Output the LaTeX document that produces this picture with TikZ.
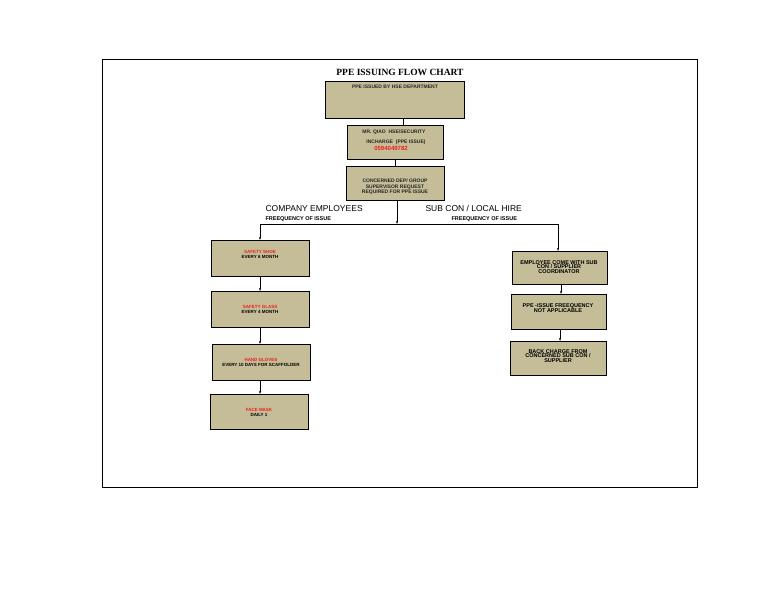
\documentclass[tikz,border=0pt]{standalone}
\usepackage{fontspec}
\setmainfont{Liberation Sans}
\usetikzlibrary{arrows.meta}
\definecolor{boxfill}{RGB}{197,189,151}
\definecolor{redt}{RGB}{240,30,30}
\tikzset{
 bx/.style={draw=black,line width=0.9pt,fill=boxfill,inner sep=0pt,font=\bfseries\fontsize{5}{5}\selectfont,align=center,text=black!85},
 arr/.style={-{Stealth[length=3pt,width=2pt]},line width=0.5pt},
 ln/.style={line width=0.5pt}
}
\newcommand{\bxat}[6]{\node[bx,minimum width=#3-#1,minimum height=#4-#2,anchor=north west] (#5) at (#1,#2) {#6};}
\begin{document}
\begin{tikzpicture}[x=1pt,y=-1pt]
\useasboundingbox (0,0) rectangle (768,593);
\fill[white] (0,0) rectangle (768,593);
\draw[line width=0.8pt] (102,59) rectangle (697,487);
\node[font=\fontspec{Liberation Serif}\bfseries\fontsize{9.5}{9.5}\selectfont,scale=1.0] (title) at (400,72) {PPE ISSUING FLOW CHART};
\node[bx,minimum width=139,minimum height=37,anchor=north west] (b1) at (325,81) {};
\node[font=\bfseries\fontsize{5}{5}\selectfont,text=black!85,anchor=north] (b1t) at (b1.north) {PPE ISSUED BY HSE DEPARTMENT};
\node[bx,minimum width=96,minimum height=34,anchor=north west] (b2) at (347,125) {};
\node[font=\bfseries\fontsize{5}{5}\selectfont,text=black!85] (b2a) at (394,132) {MR. QIAO\ \ HSE/SECURITY};
\node[font=\bfseries\fontsize{5}{5}\selectfont,text=black!85] (b2b) at (396,142.5) {INCHARGE\ \ (PPE ISSUE)};
\node[font=\bfseries\fontsize{6}{6}\selectfont,text=redt] (b2c) at (391,148) {0594049782};
\node[bx,minimum width=98,minimum height=34,anchor=north west,text depth=0pt] (b3) at (346,166) {};
\node[font=\bfseries\fontsize{5}{5.6}\selectfont,text=black!85,align=center] (b3t) at (395,187) {CONCERNED DEP/ GROUP\\SUPERVISOR REQUEST\\REQUIRED FOR PPE ISSUE};
\draw[ln] (b1.south -| 403,0) -- (b2.north -| 403,0);
\draw[ln] (b2.south -| 395,0) -- (b3.north -| 395,0);
\coordinate (j) at (397,224);
\coordinate (jl) at (260,224);
\coordinate (jr) at (558,224);
\draw[arr] (b3.south -| j) -- (j);
\draw[ln] (jl) -- (jr);
\node[font=\fontsize{8.5}{8.5}\selectfont,anchor=west] (ce) at (262,208.5) {COMPANY EMPLOYEES};
\node[font=\bfseries\fontsize{5.5}{5.5}\selectfont,anchor=west] (cf) at (262,219) {FREEQUENCY OF ISSUE};
\node[font=\fontsize{8.5}{8.5}\selectfont,anchor=west] (sc) at (422,208.5) {SUB CON / LOCAL HIRE};
\node[font=\bfseries\fontsize{5.5}{5.5}\selectfont,anchor=west] (sf) at (448,219) {FREEQUENCY OF ISSUE};
% left
\node[bx,minimum width=98,minimum height=36,anchor=north west] (l1) at (211,240) {};
\node[font=\bfseries\fontsize{4.5}{5}\selectfont,align=center,anchor=north] (l1t) at (260,247) {\textcolor{redt}{SAFETY SHOE}\\EVERY 6 MONTH};
\node[bx,minimum width=98,minimum height=36,anchor=north west] (l2) at (211,291) {};
\node[font=\bfseries\fontsize{4.5}{5}\selectfont,align=center,anchor=north] (l2t) at (260,302) {\textcolor{redt}{SAFETY GLASS}\\EVERY 4 MONTH};
\node[bx,minimum width=98,minimum height=36,anchor=north west] (l3) at (212,344) {};
\node[font=\bfseries\fontsize{4.5}{5}\selectfont,align=center,anchor=north] (l3t) at (261,355) {\textcolor{redt}{HAND GLOVES}\\EVERY 10 DAYS FOR SCAFFOLDER};
\node[bx,minimum width=98,minimum height=35,anchor=north west] (l4) at (210,394) {};
\node[font=\bfseries\fontsize{4.5}{5}\selectfont,align=center,anchor=north] (l4t) at (259,405) {\textcolor{redt}{FACE MASK}\\DAILY 1};
\draw[arr] (jl) -- (l1.north -| jl);
\draw[arr] (l1.south -| 260,0) -- (l2.north -| 260,0);
\draw[arr] (l2.south -| 260,0) -- (l3.north -| 260,0);
\draw[arr] (l3.south -| 260,0) -- (l4.north -| 260,0);
% right
\node[bx,minimum width=95,minimum height=33,anchor=north west] (r1) at (512,251) {};
\node[font=\bfseries\fontsize{5.5}{4.5}\selectfont,align=center,anchor=north] (r1t) at (559,257) {EMPLOYEE COME WITH SUB\\CON / SUPPLIER\\COORDINATOR};
\node[bx,minimum width=95,minimum height=35,anchor=north west] (r2) at (511,294) {};
\node[font=\bfseries\fontsize{5.5}{5.5}\selectfont,align=center,anchor=north] (r2t) at (558,300) {PPE -ISSUE FREEQUENCY\\NOT APPLICABLE};
\node[bx,minimum width=96,minimum height=34,anchor=north west] (r3) at (510,341) {};
\node[font=\bfseries\fontsize{5.5}{4.5}\selectfont,align=center,anchor=north] (r3t) at (558,346) {BACK CHARGE FROM\\CONCERNED SUB CON /\\SUPPLIER};
\draw[arr] (jr) -- (r1.north -| jr);
\draw[arr] (r1.south -| 561,0) -- (r2.north -| 561,0);
\draw[arr] (r2.south -| 560,0) -- (r3.north -| 560,0);
\end{tikzpicture}
\end{document}
